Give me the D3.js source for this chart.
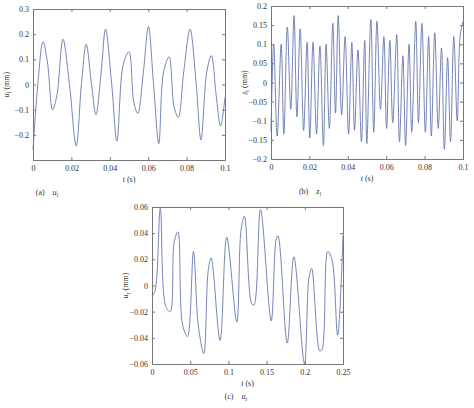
<!DOCTYPE html>
<html><head><meta charset="utf-8">
<script src="https://cdn.jsdelivr.net/npm/d3@7"></script>
<style>body{margin:0;background:#fff}text{font-family:"Liberation Serif",serif}</style>
</head><body><svg id="c" width="474" height="408"></svg>
<script>
// panel (a) u_l : extrema (t in s, value in mm)
const tA = [0,0.0025,0.0052,0.0075,0.0102,0.0125,0.0156,0.019,0.0225,0.0252,0.0277,0.0305,0.0328,0.0355,0.0378,0.041,0.0437,0.047,0.0500,0.0525,0.0546,0.0575,0.0601,0.0628,0.0655,0.068,0.0709,0.0735,0.0757,0.0785,0.0818,0.085,0.0875,0.0905,0.0929,0.0955,0.0977,0.1];
const vA = [-0.26,0.0,0.17,0.09,-0.10,-0.04,0.18,0.0,-0.245,0.0,0.16,0.0,-0.12,0.05,0.22,0.0,-0.225,0.08,0.13,-0.07,-0.115,0.05,0.23,0.0,-0.235,0.05,0.11,-0.09,-0.13,0.05,0.22,0.0,-0.22,0.05,0.115,-0.05,-0.165,-0.05];

// panel (b) z_l
const tB = [0,0.0014,0.0032,0.0053,0.0067,0.0085,0.0103,0.012,0.0135,0.0152,0.017,0.0188,0.0202,0.0219,0.0237,0.0255,0.0273,0.0287,0.0304,0.0322,0.0336,0.035,0.0368,0.0386,0.0404,0.0421,0.0435,0.0453,0.0471,0.0488,0.0499,0.052,0.0535,0.0552,0.057,0.0588,0.0602,0.0619,0.0634,0.0655,0.0669,0.0687,0.0701,0.0719,0.0733,0.0754,0.0768,0.0786,0.0804,0.0821,0.0835,0.0853,0.0871,0.0888,0.0903,0.092,0.0935,0.0952,0.097,0.0985,0.1];
const vB = [-0.13,0.10,-0.14,0.10,-0.135,0.145,-0.07,0.175,-0.09,0.14,-0.125,0.105,-0.145,0.105,-0.135,0.095,-0.165,0.10,-0.12,0.155,-0.08,0.175,-0.085,0.12,-0.135,0.105,-0.125,0.085,-0.155,0.11,-0.16,0.165,-0.13,0.16,-0.07,0.12,-0.12,0.11,-0.105,0.125,-0.155,0.07,-0.165,0.10,-0.13,0.16,-0.105,0.155,-0.13,0.12,-0.14,0.13,-0.12,0.09,-0.175,0.065,-0.155,0.12,-0.10,0.12,0.16];

// panel (c) u_r
const tC = [0,0.004,0.0109,0.018,0.0239,0.029,0.0339,0.040,0.0465,0.0543,0.0605,0.0678,0.0735,0.0774,0.0891,0.0978,0.111,0.1165,0.121,0.1305,0.1335,0.142,0.156,0.1625,0.165,0.177,0.1857,0.1996,0.2055,0.209,0.2196,0.2225,0.230,0.2355,0.243,0.25];
const vC = [-0.008,-0.004,0.059,-0.016,-0.020,0.033,0.041,-0.03,-0.039,0.026,-0.03,-0.052,0.011,0.021,-0.042,0.037,-0.028,0.042,0.053,-0.014,-0.015,0.058,-0.027,0.035,0.038,-0.044,0.022,-0.06,0.006,0.013,-0.050,-0.049,0.026,0.02,-0.038,0.038];

const svg = d3.select("#c");
const col = "#6677b0";
const fmt = d => String(+d.toFixed(3)).replace("-", "\u2212");

function panel(o) {
  const g = svg.append("g").attr("color", "#777");
  const x = d3.scaleLinear().domain(o.xd).range([o.x0, o.x1]);
  const y = d3.scaleLinear().domain(o.yd).range([o.y1, o.y0]);
  g.append("g").attr("transform", `translate(0,${o.y1})`)
    .call(d3.axisBottom(x).tickValues(o.xt).tickSize(-3).tickPadding(5).tickFormat(fmt));
  g.append("g").attr("transform", `translate(${o.x0},0)`)
    .call(d3.axisLeft(y).tickValues(o.yt).tickSize(-3).tickPadding(4).tickFormat(fmt));
  // ticks on top/right too
  g.append("g").attr("transform", `translate(0,${o.y0})`).call(d3.axisTop(x).tickValues(o.xt).tickSize(-3).tickFormat(""));
  g.append("g").attr("transform", `translate(${o.x1},0)`).call(d3.axisRight(y).tickValues(o.yt).tickSize(-3).tickFormat(""));
  g.selectAll(".tick text").attr("fill", "#333").style("font-size", "8px");
  g.append("path").datum(o.t.map((t, i) => [t, o.v[i]]))
    .attr("fill", "none").attr("stroke", col).attr("stroke-width", 0.9)
    .attr("d", d3.line().x(d => x(d[0])).y(d => y(d[1])).curve(d3.curveCatmullRom));
  g.append("text").attr("x", (o.x0 + o.x1) / 2).attr("y", o.y1 + 22).attr("text-anchor", "middle")
    .attr("fill", "#333").style("font-size", "8px").html('<tspan font-style="italic">t</tspan> (s)');
  g.append("text").attr("transform", `translate(${o.x0 - 24},${(o.y0 + o.y1) / 2}) rotate(-90)`)
    .attr("text-anchor", "middle").attr("fill", "#333").style("font-size", "8px")
    .html(`<tspan font-style="italic">${o.yl[0]}</tspan><tspan font-size="6" dy="2">${o.yl[1]}</tspan><tspan dy="-2"> (mm)</tspan>`);
  g.append("text").attr("x", o.cx).attr("y", o.y1 + 35).attr("text-anchor", "middle")
    .attr("fill", "#333").style("font-size", "8px")
    .html(`(${o.cap})\u2003<tspan font-style="italic">${o.yl[0]}</tspan><tspan font-size="6" dy="1.5">${o.yl[1]}</tspan>`);
}

panel({x0: 33, x1: 225, y0: 9, y1: 160, xd: [0, 0.1], yd: [-0.3, 0.3],
  xt: [0, 0.02, 0.04, 0.06, 0.08, 0.1], yt: [-0.2, -0.1, 0, 0.1, 0.2, 0.3],
  t: tA, v: vA, yl: ["u", "l"], cap: "a", cx: 47});
panel({x0: 271, x1: 463, y0: 6, y1: 159, xd: [0, 0.1], yd: [-0.2, 0.2],
  xt: [0, 0.02, 0.04, 0.06, 0.08, 0.1], yt: [-0.2, -0.15, -0.1, -0.05, 0, 0.05, 0.1, 0.15, 0.2],
  t: tB, v: vB, yl: ["z", "l"], cap: "b", cx: 310});
panel({x0: 152, x1: 343, y0: 207, y1: 364, xd: [0, 0.25], yd: [-0.06, 0.06],
  xt: [0, 0.05, 0.1, 0.15, 0.2, 0.25], yt: [-0.06, -0.04, -0.02, 0, 0.02, 0.04, 0.06],
  t: tC, v: vC, yl: ["u", "r"], cap: "c", cx: 236});
</script></body></html>
